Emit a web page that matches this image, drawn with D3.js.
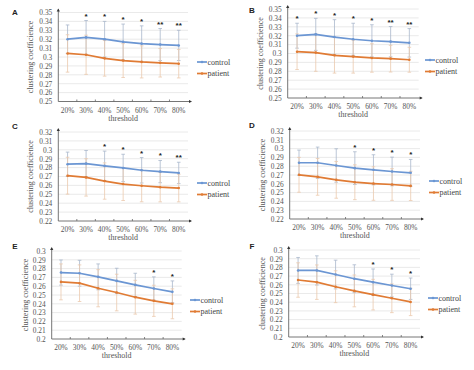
<!DOCTYPE html>
<html>
<head>
<meta charset="utf-8">
<script src="https://cdn.jsdelivr.net/npm/d3@7"></script>
<style>
    body { margin: 0; background: #fff; }
    svg { display: block; }
</style>
</head>
<body>
<div id="chart"></div>
<script>
// categories on the x axis
let thresholds = ["20%", "30%", "40%", "50%", "60%", "70%", "80%"]

// panel A
let ctrlA = [0.320, 0.322, 0.320, 0.317, 0.315, 0.314, 0.313]
let ctrlSdA = [0.016, 0.019, 0.020, 0.020, 0.020, 0.018, 0.017]
let patA = [0.304, 0.3025, 0.2985, 0.296, 0.2945, 0.2935, 0.2925]
let patSdA = [0.021, 0.022, 0.020, 0.019, 0.018, 0.016, 0.016]
let starsA = ["", "*", "*", "*", "*", "**", "**"]

// panel B
let ctrlB = [0.320, 0.3215, 0.3185, 0.316, 0.3143, 0.3133, 0.312]
let ctrlSdB = [0.014, 0.018, 0.0195, 0.018, 0.018, 0.017, 0.016]
let patB = [0.302, 0.301, 0.298, 0.2965, 0.295, 0.2942, 0.293]
let patSdB = [0.020, 0.021, 0.020, 0.0185, 0.016, 0.015, 0.014]
let starsB = ["*", "*", "*", "*", "*", "**", "**"]

// panel C
let ctrlC = [0.2838, 0.2845, 0.2819, 0.2796, 0.277, 0.2755, 0.274]
let ctrlSdC = [0.0136, 0.0147, 0.0166, 0.0154, 0.0143, 0.0125, 0.012]
let patC = [0.2709, 0.269, 0.2649, 0.2615, 0.2596, 0.258, 0.257]
let patSdC = [0.0207, 0.021, 0.0204, 0.0185, 0.018, 0.0165, 0.0155]
let starsC = ["", "", "*", "*", "*", "*", "**"]

// panel D
let ctrlD = [0.2839, 0.2839, 0.2808, 0.2778, 0.2759, 0.274, 0.2725]
let ctrlSdD = [0.0144, 0.0178, 0.019, 0.0186, 0.0171, 0.0163, 0.0152]
let patD = [0.2702, 0.2679, 0.2645, 0.2618, 0.2603, 0.2592, 0.2576]
let patSdD = [0.0198, 0.0209, 0.0209, 0.0198, 0.019, 0.018, 0.0166]
let starsD = ["", "", "", "*", "*", "*", "*"]

// panel E
let ctrlE = [0.2755, 0.2747, 0.2706, 0.266, 0.2615, 0.2574, 0.2536]
let ctrlSdE = [0.0143, 0.0147, 0.0147, 0.0144, 0.0132, 0.0132, 0.0124]
let patE = [0.2649, 0.2634, 0.2577, 0.2528, 0.2475, 0.2434, 0.240]
let patSdE = [0.0204, 0.0208, 0.0211, 0.0208, 0.0192, 0.0177, 0.017]
let starsE = ["", "", "", "", "", "*", "*"]

// panel F
let ctrlF = [0.2765, 0.2765, 0.2718, 0.267, 0.263, 0.2592, 0.2555]
let ctrlSdF = [0.0149, 0.0168, 0.0165, 0.016, 0.0152, 0.013, 0.0123]
let patF = [0.2655, 0.263, 0.2578, 0.253, 0.2487, 0.2445, 0.2403]
let patSdF = [0.0198, 0.0198, 0.0183, 0.0183, 0.0176, 0.0165, 0.0157]
let starsF = ["", "", "", "", "*", "*", "*"]

// y ranges / tick labels
let yTicksHigh = [0.25, 0.26, 0.27, 0.28, 0.29, 0.30, 0.31, 0.32, 0.33, 0.34, 0.35]
let yTicksMid = [0.22, 0.23, 0.24, 0.25, 0.26, 0.27, 0.28, 0.29, 0.30, 0.31, 0.32]
let yTicksLow = [0.20, 0.21, 0.22, 0.23, 0.24, 0.25, 0.26, 0.27, 0.28, 0.29, 0.30]

let seriesNames = ["control", "patient"]

// layout of each panel (pixel positions in the page)
let panels = [
    {letter: "A", ctrl: ctrlA, ctrlSd: ctrlSdA, pat: patA, patSd: patSdA, stars: starsA, ticks: yTicksHigh,
        x0: 58.3, x1: 188, yTop: 12.5, yBot: 101.5, lx: 15, ly: 12, titleX: 30, legX: 197, legY: 62},
    {letter: "B", ctrl: ctrlB, ctrlSd: ctrlSdB, pat: patB, patSd: patSdB, stars: starsB, ticks: yTicksHigh,
        x0: 287.7, x1: 418.7, yTop: 9, yBot: 98, lx: 252, ly: 10, titleX: 260, legX: 425, legY: 60},
    {letter: "C", ctrl: ctrlC, ctrlSd: ctrlSdC, pat: patC, patSd: patSdC, stars: starsC, ticks: yTicksMid,
        x0: 58.3, x1: 188, yTop: 132, yBot: 221, lx: 15, ly: 126, titleX: 30, legX: 197, legY: 183},
    {letter: "D", ctrl: ctrlD, ctrlSd: ctrlSdD, pat: patD, patSd: patSdD, stars: starsD, ticks: yTicksMid,
        x0: 289.7, x1: 420, yTop: 131, yBot: 219, lx: 252, ly: 125, titleX: 262, legX: 429, legY: 181},
    {letter: "E", ctrl: ctrlE, ctrlSd: ctrlSdE, pat: patE, patSd: patSdE, stars: starsE, ticks: yTicksLow,
        x0: 51.7, x1: 181.7, yTop: 251, yBot: 339, lx: 15, ly: 246, titleX: 25, legX: 190, legY: 300},
    {letter: "F", ctrl: ctrlF, ctrlSd: ctrlSdF, pat: patF, patSd: patSdF, stars: starsF, ticks: yTicksLow,
        x0: 288.7, x1: 420, yTop: 250, yBot: 337, lx: 252, ly: 246, titleX: 262, legX: 428, legY: 298}
]

let colors = {control: "#6b96d3", patient: "#e07b34"}
let barColors = {control: "#aab8cc", patient: "#ebc9ad"}
let serif = "'Liberation Serif', 'Times New Roman', serif"

let svg = d3.select("#chart").append("svg")
    .attr("width", 474)
    .attr("height", 370)

panels.forEach(p => drawPanel(p))

function drawPanel(p) {
    let g = svg.append("g")

    let x = d3.scaleBand().domain(thresholds).range([p.x0, p.x1])
    let y = d3.scaleLinear()
        .domain([p.ticks[0], p.ticks[p.ticks.length - 1]])
        .range([p.yBot, p.yTop])

    // grid lines
    g.append("g").selectAll("line")
        .data(p.ticks.slice(1))
        .enter().append("line")
        .attr("x1", p.x0).attr("x2", p.x1)
        .attr("y1", d => y(d)).attr("y2", d => y(d))
        .attr("stroke", "#e4e4e4")
        .attr("stroke-width", 0.8)

    // y axis (labels only, line drawn separately)
    let yAxis = d3.axisLeft(y).tickValues(p.ticks).tickSize(0).tickPadding(6)
        .tickFormat(d => String(+d.toFixed(2)))
    let ya = g.append("g")
        .attr("transform", `translate(${p.x0},0)`)
        .call(yAxis)
    ya.select(".domain").remove()
    ya.selectAll("text")
        .attr("font-family", serif)
        .attr("font-size", 7.4)
        .attr("fill", "#555")

    // x axis
    let xAxis = d3.axisBottom(x).tickSize(0).tickPadding(6)
    let xa = g.append("g")
        .attr("transform", `translate(0,${p.yBot})`)
        .call(xAxis)
    xa.select(".domain").remove()
    xa.selectAll("text")
        .attr("font-family", serif)
        .attr("font-size", 7.4)
        .attr("fill", "#555")

    // axis lines with small arrow heads
    g.append("line")
        .attr("x1", p.x0).attr("x2", p.x0)
        .attr("y1", p.yBot).attr("y2", p.yTop - 3)
        .attr("stroke", "#666").attr("stroke-width", 0.9)
    g.append("path")
        .attr("d", `M${p.x0 - 1.6},${p.yTop - 1} L${p.x0},${p.yTop - 4} L${p.x0 + 1.6},${p.yTop - 1}Z`)
        .attr("fill", "#333")
    g.append("line")
        .attr("x1", p.x0).attr("x2", p.x1 + 3)
        .attr("y1", p.yBot).attr("y2", p.yBot)
        .attr("stroke", "#666").attr("stroke-width", 0.9)
    g.append("path")
        .attr("d", `M${p.x1 + 1},${p.yBot - 1.6} L${p.x1 + 4},${p.yBot} L${p.x1 + 1},${p.yBot + 1.6}Z`)
        .attr("fill", "#333")

    // category boundary ticks
    g.append("g").selectAll("line")
        .data(thresholds.slice(1))
        .enter().append("line")
        .attr("x1", d => x(d)).attr("x2", d => x(d))
        .attr("y1", p.yBot).attr("y2", p.yBot - 2)
        .attr("stroke", "#666").attr("stroke-width", 0.8)

    // axis titles
    g.append("text")
        .attr("x", (p.x0 + p.x1) / 2)
        .attr("y", p.yBot + 19)
        .attr("text-anchor", "middle")
        .attr("font-family", serif)
        .attr("font-size", 8)
        .attr("fill", "#555")
        .text("threshold")

    g.append("text")
        .attr("transform", `translate(${p.titleX},${(p.yTop + p.yBot) / 2}) rotate(-90)`)
        .attr("text-anchor", "middle")
        .attr("dy", "0.32em")
        .attr("font-family", serif)
        .attr("font-size", 8)
        .attr("fill", "#555")
        .text("clustering coefficience")

    // panel letter
    g.append("text")
        .attr("x", p.lx).attr("y", p.ly)
        .attr("text-anchor", "middle")
        .attr("dy", "0.35em")
        .attr("font-family", "Arial, 'Liberation Sans', sans-serif")
        .attr("font-weight", "bold")
        .attr("font-size", 8)
        .attr("fill", "#222")
        .text(p.letter)

    let series = [
        {name: "control", mean: p.ctrl, sd: p.ctrlSd},
        {name: "patient", mean: p.pat, sd: p.patSd}
    ]
    let cx = d => x(d) + x.bandwidth() / 2

    // error bars
    series.forEach(s => {
        let eb = g.append("g")
            .attr("stroke", barColors[s.name])
            .attr("stroke-width", 0.8)
        thresholds.forEach((t, i) => {
            let hi = y(s.mean[i] + s.sd[i])
            let lo = y(s.mean[i] - s.sd[i])
            eb.append("line").attr("x1", cx(t)).attr("x2", cx(t)).attr("y1", hi).attr("y2", lo)
            eb.append("line").attr("x1", cx(t) - 1.8).attr("x2", cx(t) + 1.8).attr("y1", hi).attr("y2", hi)
            eb.append("line").attr("x1", cx(t) - 1.8).attr("x2", cx(t) + 1.8).attr("y1", lo).attr("y2", lo)
        })
    })

    // lines + markers
    let line = d3.line()
        .x((d, i) => cx(thresholds[i]))
        .y(d => y(d))
    series.forEach(s => {
        g.append("path")
            .datum(s.mean)
            .attr("d", line)
            .attr("fill", "none")
            .attr("stroke", colors[s.name])
            .attr("stroke-width", 1.7)
        g.append("g").selectAll("circle")
            .data(s.mean)
            .enter().append("circle")
            .attr("cx", (d, i) => cx(thresholds[i]))
            .attr("cy", d => y(d))
            .attr("r", 1.3)
            .attr("fill", colors[s.name])
    })

    // significance stars above the control error bar
    g.append("g").selectAll("text")
        .data(p.stars)
        .enter().append("text")
        .attr("x", (d, i) => cx(thresholds[i]))
        .attr("y", (d, i) => y(p.ctrl[i] + p.ctrlSd[i]) - 2)
        .attr("text-anchor", "middle")
        .attr("font-family", "Arial, 'Liberation Sans', sans-serif")
        .attr("font-weight", "bold")
        .attr("font-size", 8)
        .attr("fill", "#222")
        .text(d => d)

    // legend
    let leg = g.append("g").selectAll("g")
        .data(seriesNames)
        .enter().append("g")
        .attr("transform", (d, i) => `translate(${p.legX},${p.legY + i * 11.5})`)
    leg.append("line")
        .attr("x1", 0).attr("x2", 10)
        .attr("stroke", d => colors[d])
        .attr("stroke-width", 1.7)
    leg.append("circle")
        .attr("cx", 5).attr("r", 1.3)
        .attr("fill", d => colors[d])
    leg.append("text")
        .attr("x", 10.5)
        .attr("dy", "0.32em")
        .attr("font-family", serif)
        .attr("font-size", 8)
        .attr("fill", "#444")
        .text(d => d)
}
</script>
</body>
</html>
